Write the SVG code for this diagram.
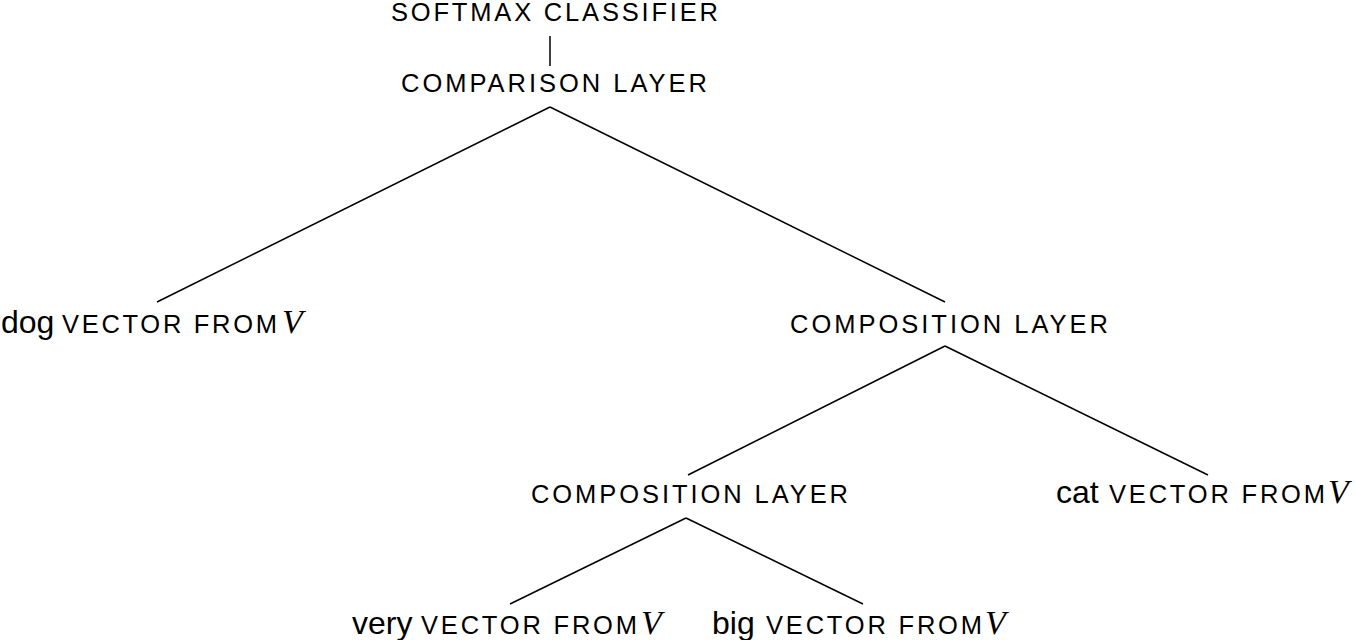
<svg xmlns="http://www.w3.org/2000/svg" width="1356" height="640" viewBox="0 0 1356 640">
<style>
.c{font-family:"Liberation Sans",Arial,sans-serif;font-size:25.5px;fill:#000}
.w{font-family:"Liberation Sans",Arial,sans-serif;font-size:32px;fill:#000}
.v{font-family:"Liberation Serif","Times New Roman",serif;font-style:italic;font-size:34px;fill:#000}
line{stroke:#000;stroke-width:1.5}
</style>
<rect width="1356" height="640" fill="#fff"/>
<g id="connectors">
<line x1="550" y1="36" x2="550" y2="66"/>
<line x1="550" y1="107" x2="157" y2="302"/>
<line x1="550" y1="107" x2="945" y2="302"/>
<line x1="945" y1="346" x2="688" y2="475"/>
<line x1="945" y1="346" x2="1208" y2="475"/>
<line x1="686" y1="518" x2="510" y2="604"/>
<line x1="686" y1="518" x2="863" y2="604"/>
</g>
<g id="softmax"><text class="c" x="391" y="21" textLength="327" lengthAdjust="spacing">SOFTMAX CLASSIFIER</text></g>
<g id="comparison"><text class="c" x="401" y="92" textLength="306" lengthAdjust="spacing">COMPARISON LAYER</text></g>
<g id="dog"><text class="w" x="1" y="333">dog</text><text class="c" x="62" y="333" textLength="215" lengthAdjust="spacing">VECTOR FROM</text><text class="v" x="282" y="333">V</text></g>
<g id="comp1"><text class="c" x="790" y="333" textLength="318" lengthAdjust="spacing">COMPOSITION LAYER</text></g>
<g id="comp2"><text class="c" x="531" y="503" textLength="317" lengthAdjust="spacing">COMPOSITION LAYER</text></g>
<g id="cat"><text class="w" x="1056" y="503">cat</text><text class="c" x="1109" y="503" textLength="216" lengthAdjust="spacing">VECTOR FROM</text><text class="v" x="1328" y="503">V</text></g>
<g id="very"><text class="w" x="352" y="634">very</text><text class="c" x="421" y="634" textLength="216" lengthAdjust="spacing">VECTOR FROM</text><text class="v" x="641" y="634">V</text></g>
<g id="big"><text class="w" x="712" y="634">big</text><text class="c" x="766" y="634" textLength="216" lengthAdjust="spacing">VECTOR FROM</text><text class="v" x="985" y="634">V</text></g>
</svg>
